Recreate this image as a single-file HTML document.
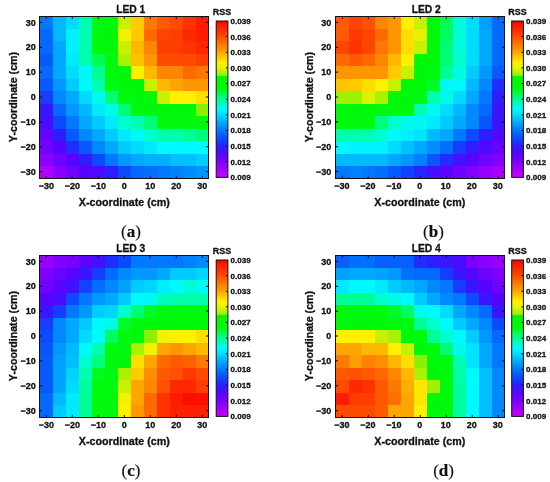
<!DOCTYPE html>
<html><head><meta charset="utf-8"><title>LED RSS maps</title>
<style>html,body{margin:0;padding:0;background:#fff;}svg{display:block;}</style></head><body>
<svg width="550" height="482" viewBox="0 0 550 482">
<defs><linearGradient id="cb" x1="0" y1="1" x2="0" y2="0"><stop offset="0%" stop-color="#c800ff"/><stop offset="5%" stop-color="#a500ff"/><stop offset="10%" stop-color="#7d00ff"/><stop offset="15%" stop-color="#5505ff"/><stop offset="20%" stop-color="#2d1eff"/><stop offset="25%" stop-color="#0a4bff"/><stop offset="30%" stop-color="#0078ff"/><stop offset="35%" stop-color="#00a8ff"/><stop offset="40%" stop-color="#00dcff"/><stop offset="43.33%" stop-color="#00f8ff"/><stop offset="46.67%" stop-color="#00fdcd"/><stop offset="50%" stop-color="#00fd96"/><stop offset="53.33%" stop-color="#00fc55"/><stop offset="56%" stop-color="#00fa0f"/><stop offset="64.67%" stop-color="#00f805"/><stop offset="65%" stop-color="#8cf005"/><stop offset="70%" stop-color="#e6f200"/><stop offset="73.33%" stop-color="#fff000"/><stop offset="76.67%" stop-color="#ffcb00"/><stop offset="80%" stop-color="#ffa500"/><stop offset="85%" stop-color="#ff7800"/><stop offset="90%" stop-color="#ff4b00"/><stop offset="93.33%" stop-color="#ff3200"/><stop offset="96.67%" stop-color="#ff1c00"/><stop offset="100%" stop-color="#f80000"/></linearGradient></defs>
<style>text{stroke:#111111;stroke-width:0.3px;stroke-linejoin:round}</style>
<rect width="550" height="482" fill="#fff"/>
<g transform="translate(0,0)">
<g shape-rendering="crispEdges">
<rect x="39.5" y="16.5" width="13.05" height="12.51" fill="#0078ff"/>
<rect x="52.5" y="16.5" width="13.05" height="12.51" fill="#00b9ff"/>
<rect x="65.5" y="16.5" width="13.05" height="12.51" fill="#00dcff"/>
<rect x="78.5" y="16.5" width="13.05" height="12.51" fill="#00fdb2"/>
<rect x="91.5" y="16.5" width="13.05" height="12.51" fill="#00f90c"/>
<rect x="104.5" y="16.5" width="13.05" height="12.51" fill="#00f90a"/>
<rect x="117.5" y="16.5" width="13.05" height="12.51" fill="#c8f102"/>
<rect x="130.5" y="16.5" width="13.05" height="12.51" fill="#ffcb00"/>
<rect x="143.5" y="16.5" width="13.05" height="12.51" fill="#ff7800"/>
<rect x="156.5" y="16.5" width="13.05" height="12.51" fill="#ff5a00"/>
<rect x="169.5" y="16.5" width="13.05" height="12.51" fill="#ff4b00"/>
<rect x="182.5" y="16.5" width="13.05" height="12.51" fill="#ff3200"/>
<rect x="195.5" y="16.5" width="13.05" height="12.51" fill="#ff1c00"/>
<rect x="39.5" y="28.96" width="13.05" height="12.51" fill="#0369ff"/>
<rect x="52.5" y="28.96" width="13.05" height="12.51" fill="#00b9ff"/>
<rect x="65.5" y="28.96" width="13.05" height="12.51" fill="#00f0ff"/>
<rect x="78.5" y="28.96" width="13.05" height="12.51" fill="#00fdb2"/>
<rect x="91.5" y="28.96" width="13.05" height="12.51" fill="#00f90c"/>
<rect x="104.5" y="28.96" width="13.05" height="12.51" fill="#00f90a"/>
<rect x="117.5" y="28.96" width="13.05" height="12.51" fill="#f2f100"/>
<rect x="130.5" y="28.96" width="13.05" height="12.51" fill="#ffcb00"/>
<rect x="143.5" y="28.96" width="13.05" height="12.51" fill="#ff6900"/>
<rect x="156.5" y="28.96" width="13.05" height="12.51" fill="#ff4300"/>
<rect x="169.5" y="28.96" width="13.05" height="12.51" fill="#ff3e00"/>
<rect x="182.5" y="28.96" width="13.05" height="12.51" fill="#ff2700"/>
<rect x="195.5" y="28.96" width="13.05" height="12.51" fill="#ff1c00"/>
<rect x="39.5" y="41.42" width="13.05" height="12.51" fill="#0369ff"/>
<rect x="52.5" y="41.42" width="13.05" height="12.51" fill="#00a8ff"/>
<rect x="65.5" y="41.42" width="13.05" height="12.51" fill="#00f0ff"/>
<rect x="78.5" y="41.42" width="13.05" height="12.51" fill="#00fdac"/>
<rect x="91.5" y="41.42" width="13.05" height="12.51" fill="#00fa0e"/>
<rect x="104.5" y="41.42" width="13.05" height="12.51" fill="#00f90a"/>
<rect x="117.5" y="41.42" width="13.05" height="12.51" fill="#c8f102"/>
<rect x="130.5" y="41.42" width="13.05" height="12.51" fill="#ffb800"/>
<rect x="143.5" y="41.42" width="13.05" height="12.51" fill="#ff8700"/>
<rect x="156.5" y="41.42" width="13.05" height="12.51" fill="#ff3e00"/>
<rect x="169.5" y="41.42" width="13.05" height="12.51" fill="#ff3e00"/>
<rect x="182.5" y="41.42" width="13.05" height="12.51" fill="#ff3200"/>
<rect x="195.5" y="41.42" width="13.05" height="12.51" fill="#ff2700"/>
<rect x="39.5" y="53.88" width="13.05" height="12.51" fill="#075aff"/>
<rect x="52.5" y="53.88" width="13.05" height="12.51" fill="#00a8ff"/>
<rect x="65.5" y="53.88" width="13.05" height="12.51" fill="#00eaff"/>
<rect x="78.5" y="53.88" width="13.05" height="12.51" fill="#00fdac"/>
<rect x="91.5" y="53.88" width="13.05" height="12.51" fill="#00fc55"/>
<rect x="104.5" y="53.88" width="13.05" height="12.51" fill="#00f90c"/>
<rect x="117.5" y="53.88" width="13.05" height="12.51" fill="#aaf103"/>
<rect x="130.5" y="53.88" width="13.05" height="12.51" fill="#ffc000"/>
<rect x="143.5" y="53.88" width="13.05" height="12.51" fill="#ff9600"/>
<rect x="156.5" y="53.88" width="13.05" height="12.51" fill="#ff4b00"/>
<rect x="169.5" y="53.88" width="13.05" height="12.51" fill="#ff4b00"/>
<rect x="182.5" y="53.88" width="13.05" height="12.51" fill="#ff4b00"/>
<rect x="195.5" y="53.88" width="13.05" height="12.51" fill="#ff3e00"/>
<rect x="39.5" y="66.35" width="13.05" height="12.51" fill="#0369ff"/>
<rect x="52.5" y="66.35" width="13.05" height="12.51" fill="#00a8ff"/>
<rect x="65.5" y="66.35" width="13.05" height="12.51" fill="#00dcff"/>
<rect x="78.5" y="66.35" width="13.05" height="12.51" fill="#00f9f5"/>
<rect x="91.5" y="66.35" width="13.05" height="12.51" fill="#00fd96"/>
<rect x="104.5" y="66.35" width="13.05" height="12.51" fill="#00f90c"/>
<rect x="117.5" y="66.35" width="13.05" height="12.51" fill="#00f90a"/>
<rect x="130.5" y="66.35" width="13.05" height="12.51" fill="#fff000"/>
<rect x="143.5" y="66.35" width="13.05" height="12.51" fill="#ffb800"/>
<rect x="156.5" y="66.35" width="13.05" height="12.51" fill="#ff8700"/>
<rect x="169.5" y="66.35" width="13.05" height="12.51" fill="#ff8700"/>
<rect x="182.5" y="66.35" width="13.05" height="12.51" fill="#ff6900"/>
<rect x="195.5" y="66.35" width="13.05" height="12.51" fill="#ff7800"/>
<rect x="39.5" y="78.81" width="13.05" height="12.51" fill="#075aff"/>
<rect x="52.5" y="78.81" width="13.05" height="12.51" fill="#0098ff"/>
<rect x="65.5" y="78.81" width="13.05" height="12.51" fill="#00cbff"/>
<rect x="78.5" y="78.81" width="13.05" height="12.51" fill="#00f8ff"/>
<rect x="91.5" y="78.81" width="13.05" height="12.51" fill="#00fdb2"/>
<rect x="104.5" y="78.81" width="13.05" height="12.51" fill="#00fa0e"/>
<rect x="117.5" y="78.81" width="13.05" height="12.51" fill="#00f90a"/>
<rect x="130.5" y="78.81" width="13.05" height="12.51" fill="#00f908"/>
<rect x="143.5" y="78.81" width="13.05" height="12.51" fill="#c8f102"/>
<rect x="156.5" y="78.81" width="13.05" height="12.51" fill="#ffb800"/>
<rect x="169.5" y="78.81" width="13.05" height="12.51" fill="#ffa500"/>
<rect x="182.5" y="78.81" width="13.05" height="12.51" fill="#ff9600"/>
<rect x="195.5" y="78.81" width="13.05" height="12.51" fill="#ff9600"/>
<rect x="39.5" y="91.27" width="13.05" height="12.51" fill="#163cff"/>
<rect x="52.5" y="91.27" width="13.05" height="12.51" fill="#0088ff"/>
<rect x="65.5" y="91.27" width="13.05" height="12.51" fill="#00a8ff"/>
<rect x="78.5" y="91.27" width="13.05" height="12.51" fill="#00dcff"/>
<rect x="91.5" y="91.27" width="13.05" height="12.51" fill="#00faf0"/>
<rect x="104.5" y="91.27" width="13.05" height="12.51" fill="#00fc76"/>
<rect x="117.5" y="91.27" width="13.05" height="12.51" fill="#00f90c"/>
<rect x="130.5" y="91.27" width="13.05" height="12.51" fill="#00f90a"/>
<rect x="143.5" y="91.27" width="13.05" height="12.51" fill="#00f908"/>
<rect x="156.5" y="91.27" width="13.05" height="12.51" fill="#c8f102"/>
<rect x="169.5" y="91.27" width="13.05" height="12.51" fill="#fff000"/>
<rect x="182.5" y="91.27" width="13.05" height="12.51" fill="#fff000"/>
<rect x="195.5" y="91.27" width="13.05" height="12.51" fill="#ffde00"/>
<rect x="39.5" y="103.73" width="13.05" height="12.51" fill="#3a16ff"/>
<rect x="52.5" y="103.73" width="13.05" height="12.51" fill="#0369ff"/>
<rect x="65.5" y="103.73" width="13.05" height="12.51" fill="#0098ff"/>
<rect x="78.5" y="103.73" width="13.05" height="12.51" fill="#00b9ff"/>
<rect x="91.5" y="103.73" width="13.05" height="12.51" fill="#00eaff"/>
<rect x="104.5" y="103.73" width="13.05" height="12.51" fill="#00fae6"/>
<rect x="117.5" y="103.73" width="13.05" height="12.51" fill="#00fc76"/>
<rect x="130.5" y="103.73" width="13.05" height="12.51" fill="#00f90c"/>
<rect x="143.5" y="103.73" width="13.05" height="12.51" fill="#00f90a"/>
<rect x="156.5" y="103.73" width="13.05" height="12.51" fill="#00f908"/>
<rect x="169.5" y="103.73" width="13.05" height="12.51" fill="#00f908"/>
<rect x="182.5" y="103.73" width="13.05" height="12.51" fill="#00f908"/>
<rect x="195.5" y="103.73" width="13.05" height="12.51" fill="#8cf005"/>
<rect x="39.5" y="116.19" width="13.05" height="12.51" fill="#480dff"/>
<rect x="52.5" y="116.19" width="13.05" height="12.51" fill="#0a4bff"/>
<rect x="65.5" y="116.19" width="13.05" height="12.51" fill="#0078ff"/>
<rect x="78.5" y="116.19" width="13.05" height="12.51" fill="#00a8ff"/>
<rect x="91.5" y="116.19" width="13.05" height="12.51" fill="#00cbff"/>
<rect x="104.5" y="116.19" width="13.05" height="12.51" fill="#00eaff"/>
<rect x="117.5" y="116.19" width="13.05" height="12.51" fill="#00fdcd"/>
<rect x="130.5" y="116.19" width="13.05" height="12.51" fill="#00fdb2"/>
<rect x="143.5" y="116.19" width="13.05" height="12.51" fill="#00fc76"/>
<rect x="156.5" y="116.19" width="13.05" height="12.51" fill="#00f90c"/>
<rect x="169.5" y="116.19" width="13.05" height="12.51" fill="#00f90c"/>
<rect x="182.5" y="116.19" width="13.05" height="12.51" fill="#00f90c"/>
<rect x="195.5" y="116.19" width="13.05" height="12.51" fill="#00fa0e"/>
<rect x="39.5" y="128.65" width="13.05" height="12.51" fill="#6203ff"/>
<rect x="52.5" y="128.65" width="13.05" height="12.51" fill="#2d1eff"/>
<rect x="65.5" y="128.65" width="13.05" height="12.51" fill="#075aff"/>
<rect x="78.5" y="128.65" width="13.05" height="12.51" fill="#0088ff"/>
<rect x="91.5" y="128.65" width="13.05" height="12.51" fill="#00a8ff"/>
<rect x="104.5" y="128.65" width="13.05" height="12.51" fill="#00cbff"/>
<rect x="117.5" y="128.65" width="13.05" height="12.51" fill="#00eaff"/>
<rect x="130.5" y="128.65" width="13.05" height="12.51" fill="#00f9f5"/>
<rect x="143.5" y="128.65" width="13.05" height="12.51" fill="#00fdcd"/>
<rect x="156.5" y="128.65" width="13.05" height="12.51" fill="#00fdb2"/>
<rect x="169.5" y="128.65" width="13.05" height="12.51" fill="#00fdb2"/>
<rect x="182.5" y="128.65" width="13.05" height="12.51" fill="#00fd96"/>
<rect x="195.5" y="128.65" width="13.05" height="12.51" fill="#00fc76"/>
<rect x="39.5" y="141.12" width="13.05" height="12.51" fill="#7002ff"/>
<rect x="52.5" y="141.12" width="13.05" height="12.51" fill="#5505ff"/>
<rect x="65.5" y="141.12" width="13.05" height="12.51" fill="#212dff"/>
<rect x="78.5" y="141.12" width="13.05" height="12.51" fill="#075aff"/>
<rect x="91.5" y="141.12" width="13.05" height="12.51" fill="#0088ff"/>
<rect x="104.5" y="141.12" width="13.05" height="12.51" fill="#00a8ff"/>
<rect x="117.5" y="141.12" width="13.05" height="12.51" fill="#00cbff"/>
<rect x="130.5" y="141.12" width="13.05" height="12.51" fill="#00dcff"/>
<rect x="143.5" y="141.12" width="13.05" height="12.51" fill="#00eaff"/>
<rect x="156.5" y="141.12" width="13.05" height="12.51" fill="#00f8ff"/>
<rect x="169.5" y="141.12" width="13.05" height="12.51" fill="#00f8ff"/>
<rect x="182.5" y="141.12" width="13.05" height="12.51" fill="#00f8ff"/>
<rect x="195.5" y="141.12" width="13.05" height="12.51" fill="#00f8ff"/>
<rect x="39.5" y="153.58" width="13.05" height="12.51" fill="#8a00ff"/>
<rect x="52.5" y="153.58" width="13.05" height="12.51" fill="#7002ff"/>
<rect x="65.5" y="153.58" width="13.05" height="12.51" fill="#5505ff"/>
<rect x="78.5" y="153.58" width="13.05" height="12.51" fill="#2d1eff"/>
<rect x="91.5" y="153.58" width="13.05" height="12.51" fill="#0a4bff"/>
<rect x="104.5" y="153.58" width="13.05" height="12.51" fill="#0078ff"/>
<rect x="117.5" y="153.58" width="13.05" height="12.51" fill="#0098ff"/>
<rect x="130.5" y="153.58" width="13.05" height="12.51" fill="#00a8ff"/>
<rect x="143.5" y="153.58" width="13.05" height="12.51" fill="#00afff"/>
<rect x="156.5" y="153.58" width="13.05" height="12.51" fill="#00afff"/>
<rect x="169.5" y="153.58" width="13.05" height="12.51" fill="#00c0ff"/>
<rect x="182.5" y="153.58" width="13.05" height="12.51" fill="#00c0ff"/>
<rect x="195.5" y="153.58" width="13.05" height="12.51" fill="#00ceff"/>
<rect x="39.5" y="166.04" width="13.05" height="12.51" fill="#b100ff"/>
<rect x="52.5" y="166.04" width="13.05" height="12.51" fill="#8a00ff"/>
<rect x="65.5" y="166.04" width="13.05" height="12.51" fill="#7002ff"/>
<rect x="78.5" y="166.04" width="13.05" height="12.51" fill="#5505ff"/>
<rect x="91.5" y="166.04" width="13.05" height="12.51" fill="#480dff"/>
<rect x="104.5" y="166.04" width="13.05" height="12.51" fill="#2d1eff"/>
<rect x="117.5" y="166.04" width="13.05" height="12.51" fill="#0a4bff"/>
<rect x="130.5" y="166.04" width="13.05" height="12.51" fill="#0369ff"/>
<rect x="143.5" y="166.04" width="13.05" height="12.51" fill="#026fff"/>
<rect x="156.5" y="166.04" width="13.05" height="12.51" fill="#0078ff"/>
<rect x="169.5" y="166.04" width="13.05" height="12.51" fill="#0082ff"/>
<rect x="182.5" y="166.04" width="13.05" height="12.51" fill="#008bff"/>
<rect x="195.5" y="166.04" width="13.05" height="12.51" fill="#0098ff"/>
</g>
<rect x="39.5" y="16.5" width="169" height="162" fill="none" stroke="#111111" stroke-width="1"/>
<path d="M46.3 178.5v-2.6M46.3 16.5v2.6M39.5 171.61h2.6M208.5 171.61h-2.6M72.3 178.5v-2.6M72.3 16.5v2.6M39.5 146.74h2.6M208.5 146.74h-2.6M98.3 178.5v-2.6M98.3 16.5v2.6M39.5 121.87h2.6M208.5 121.87h-2.6M124.3 178.5v-2.6M124.3 16.5v2.6M39.5 97h2.6M208.5 97h-2.6M150.3 178.5v-2.6M150.3 16.5v2.6M39.5 72.13h2.6M208.5 72.13h-2.6M176.3 178.5v-2.6M176.3 16.5v2.6M39.5 47.26h2.6M208.5 47.26h-2.6M202.3 178.5v-2.6M202.3 16.5v2.6M39.5 22.39h2.6M208.5 22.39h-2.6" stroke="#111111" stroke-width="1" fill="none"/>
<g transform="translate(0,0)">
<g font-family="'Liberation Sans', Arial, sans-serif" font-weight="bold" font-size="9" fill="#111111">
<text x="35.7" y="174.81" text-anchor="end">−30</text>
<text x="46.3" y="189.3" text-anchor="middle">−30</text>
<text x="35.7" y="149.94" text-anchor="end">−20</text>
<text x="72.3" y="189.3" text-anchor="middle">−20</text>
<text x="35.7" y="125.07" text-anchor="end">−10</text>
<text x="98.3" y="189.3" text-anchor="middle">−10</text>
<text x="35.7" y="100.2" text-anchor="end">0</text>
<text x="124.3" y="189.3" text-anchor="middle">0</text>
<text x="35.7" y="75.33" text-anchor="end">10</text>
<text x="150.3" y="189.3" text-anchor="middle">10</text>
<text x="35.7" y="50.46" text-anchor="end">20</text>
<text x="176.3" y="189.3" text-anchor="middle">20</text>
<text x="35.7" y="25.59" text-anchor="end">30</text>
<text x="202.3" y="189.3" text-anchor="middle">30</text>
</g>
<text x="124.3" y="206" text-anchor="middle" font-family="'Liberation Sans', Arial, sans-serif" font-weight="bold" font-size="10.7" fill="#111111">X-coordinate (cm)</text>
<text transform="translate(17,97) rotate(-90)" text-anchor="middle" font-family="'Liberation Sans', Arial, sans-serif" font-weight="bold" font-size="10.7" fill="#111111">Y-coordinate (cm)</text>
<text x="130.75" y="13.3" text-anchor="middle" font-family="'Liberation Sans', Arial, sans-serif" font-weight="bold" font-size="10.3" fill="#111111">LED 1</text>
<rect x="216.2" y="21" width="11.7" height="156.4" fill="url(#cb)" stroke="#111111" stroke-width="1"/>
<g font-family="'Liberation Sans', Arial, sans-serif" font-weight="bold" font-size="8" fill="#111111">
<text x="230.6" y="180.3">0.009</text>
<text x="230.6" y="164.66">0.012</text>
<text x="230.6" y="149.02">0.015</text>
<text x="230.6" y="133.38">0.018</text>
<text x="230.6" y="117.74">0.021</text>
<text x="230.6" y="102.1">0.024</text>
<text x="230.6" y="86.46">0.027</text>
<text x="230.6" y="70.82">0.030</text>
<text x="230.6" y="55.18">0.033</text>
<text x="230.6" y="39.54">0.036</text>
<text x="230.6" y="23.9">0.039</text>
</g>
<path d="M227.9 161.76h-2M227.9 146.12h-2M227.9 130.48h-2M227.9 114.84h-2M227.9 99.2h-2M227.9 83.56h-2M227.9 67.92h-2M227.9 52.28h-2M227.9 36.64h-2" stroke="#111111" stroke-width="1" fill="none"/>
<text x="222" y="14.9" text-anchor="middle" font-family="'Liberation Sans', Arial, sans-serif" font-weight="bold" font-size="9" fill="#111111">RSS</text>
</g>
</g>
<g transform="translate(296,0)">
<g shape-rendering="crispEdges">
<rect x="39.5" y="16.5" width="13.05" height="12.51" fill="#ff5a00"/>
<rect x="52.5" y="16.5" width="13.05" height="12.51" fill="#ff4300"/>
<rect x="65.5" y="16.5" width="13.05" height="12.51" fill="#ff5100"/>
<rect x="78.5" y="16.5" width="13.05" height="12.51" fill="#ff8700"/>
<rect x="91.5" y="16.5" width="13.05" height="12.51" fill="#ff9600"/>
<rect x="104.5" y="16.5" width="13.05" height="12.51" fill="#fff000"/>
<rect x="117.5" y="16.5" width="13.05" height="12.51" fill="#c8f102"/>
<rect x="130.5" y="16.5" width="13.05" height="12.51" fill="#00f90a"/>
<rect x="143.5" y="16.5" width="13.05" height="12.51" fill="#00fc55"/>
<rect x="156.5" y="16.5" width="13.05" height="12.51" fill="#00fcdc"/>
<rect x="169.5" y="16.5" width="13.05" height="12.51" fill="#00dcff"/>
<rect x="182.5" y="16.5" width="13.05" height="12.51" fill="#009eff"/>
<rect x="195.5" y="16.5" width="13.05" height="12.51" fill="#0369ff"/>
<rect x="39.5" y="28.96" width="13.05" height="12.51" fill="#ff5a00"/>
<rect x="52.5" y="28.96" width="13.05" height="12.51" fill="#ff3700"/>
<rect x="65.5" y="28.96" width="13.05" height="12.51" fill="#ff4600"/>
<rect x="78.5" y="28.96" width="13.05" height="12.51" fill="#ff6900"/>
<rect x="91.5" y="28.96" width="13.05" height="12.51" fill="#ff9600"/>
<rect x="104.5" y="28.96" width="13.05" height="12.51" fill="#ffde00"/>
<rect x="117.5" y="28.96" width="13.05" height="12.51" fill="#e6f200"/>
<rect x="130.5" y="28.96" width="13.05" height="12.51" fill="#00f90a"/>
<rect x="143.5" y="28.96" width="13.05" height="12.51" fill="#00fc62"/>
<rect x="156.5" y="28.96" width="13.05" height="12.51" fill="#00fcdc"/>
<rect x="169.5" y="28.96" width="13.05" height="12.51" fill="#00dcff"/>
<rect x="182.5" y="28.96" width="13.05" height="12.51" fill="#00a8ff"/>
<rect x="195.5" y="28.96" width="13.05" height="12.51" fill="#0369ff"/>
<rect x="39.5" y="41.42" width="13.05" height="12.51" fill="#ff4600"/>
<rect x="52.5" y="41.42" width="13.05" height="12.51" fill="#ff3200"/>
<rect x="65.5" y="41.42" width="13.05" height="12.51" fill="#ff4600"/>
<rect x="78.5" y="41.42" width="13.05" height="12.51" fill="#ff7800"/>
<rect x="91.5" y="41.42" width="13.05" height="12.51" fill="#ff9600"/>
<rect x="104.5" y="41.42" width="13.05" height="12.51" fill="#ffde00"/>
<rect x="117.5" y="41.42" width="13.05" height="12.51" fill="#c8f102"/>
<rect x="130.5" y="41.42" width="13.05" height="12.51" fill="#00f90a"/>
<rect x="143.5" y="41.42" width="13.05" height="12.51" fill="#00fc76"/>
<rect x="156.5" y="41.42" width="13.05" height="12.51" fill="#00fcdc"/>
<rect x="169.5" y="41.42" width="13.05" height="12.51" fill="#00dcff"/>
<rect x="182.5" y="41.42" width="13.05" height="12.51" fill="#00a8ff"/>
<rect x="195.5" y="41.42" width="13.05" height="12.51" fill="#0369ff"/>
<rect x="39.5" y="53.88" width="13.05" height="12.51" fill="#ff6900"/>
<rect x="52.5" y="53.88" width="13.05" height="12.51" fill="#ff5a00"/>
<rect x="65.5" y="53.88" width="13.05" height="12.51" fill="#ff6900"/>
<rect x="78.5" y="53.88" width="13.05" height="12.51" fill="#ff8700"/>
<rect x="91.5" y="53.88" width="13.05" height="12.51" fill="#ffb800"/>
<rect x="104.5" y="53.88" width="13.05" height="12.51" fill="#fff000"/>
<rect x="117.5" y="53.88" width="13.05" height="12.51" fill="#00f908"/>
<rect x="130.5" y="53.88" width="13.05" height="12.51" fill="#00f90a"/>
<rect x="143.5" y="53.88" width="13.05" height="12.51" fill="#00fc76"/>
<rect x="156.5" y="53.88" width="13.05" height="12.51" fill="#00fdcd"/>
<rect x="169.5" y="53.88" width="13.05" height="12.51" fill="#00dcff"/>
<rect x="182.5" y="53.88" width="13.05" height="12.51" fill="#00a8ff"/>
<rect x="195.5" y="53.88" width="13.05" height="12.51" fill="#0369ff"/>
<rect x="39.5" y="66.35" width="13.05" height="12.51" fill="#ff9600"/>
<rect x="52.5" y="66.35" width="13.05" height="12.51" fill="#ff9600"/>
<rect x="65.5" y="66.35" width="13.05" height="12.51" fill="#ff9600"/>
<rect x="78.5" y="66.35" width="13.05" height="12.51" fill="#ff9600"/>
<rect x="91.5" y="66.35" width="13.05" height="12.51" fill="#ffcb00"/>
<rect x="104.5" y="66.35" width="13.05" height="12.51" fill="#c8f102"/>
<rect x="117.5" y="66.35" width="13.05" height="12.51" fill="#00f90a"/>
<rect x="130.5" y="66.35" width="13.05" height="12.51" fill="#00f90c"/>
<rect x="143.5" y="66.35" width="13.05" height="12.51" fill="#00fd96"/>
<rect x="156.5" y="66.35" width="13.05" height="12.51" fill="#00fae6"/>
<rect x="169.5" y="66.35" width="13.05" height="12.51" fill="#00cbff"/>
<rect x="182.5" y="66.35" width="13.05" height="12.51" fill="#0098ff"/>
<rect x="195.5" y="66.35" width="13.05" height="12.51" fill="#075aff"/>
<rect x="39.5" y="78.81" width="13.05" height="12.51" fill="#ffc300"/>
<rect x="52.5" y="78.81" width="13.05" height="12.51" fill="#ffcb00"/>
<rect x="65.5" y="78.81" width="13.05" height="12.51" fill="#ffde00"/>
<rect x="78.5" y="78.81" width="13.05" height="12.51" fill="#fff000"/>
<rect x="91.5" y="78.81" width="13.05" height="12.51" fill="#c8f102"/>
<rect x="104.5" y="78.81" width="13.05" height="12.51" fill="#00f908"/>
<rect x="117.5" y="78.81" width="13.05" height="12.51" fill="#00f90a"/>
<rect x="130.5" y="78.81" width="13.05" height="12.51" fill="#00fb29"/>
<rect x="143.5" y="78.81" width="13.05" height="12.51" fill="#00f9f5"/>
<rect x="156.5" y="78.81" width="13.05" height="12.51" fill="#00f8ff"/>
<rect x="169.5" y="78.81" width="13.05" height="12.51" fill="#00b9ff"/>
<rect x="182.5" y="78.81" width="13.05" height="12.51" fill="#0088ff"/>
<rect x="195.5" y="78.81" width="13.05" height="12.51" fill="#212dff"/>
<rect x="39.5" y="91.27" width="13.05" height="12.51" fill="#9ef004"/>
<rect x="52.5" y="91.27" width="13.05" height="12.51" fill="#9ef004"/>
<rect x="65.5" y="91.27" width="13.05" height="12.51" fill="#daf201"/>
<rect x="78.5" y="91.27" width="13.05" height="12.51" fill="#aaf103"/>
<rect x="91.5" y="91.27" width="13.05" height="12.51" fill="#00f90a"/>
<rect x="104.5" y="91.27" width="13.05" height="12.51" fill="#00f90a"/>
<rect x="117.5" y="91.27" width="13.05" height="12.51" fill="#00f90c"/>
<rect x="130.5" y="91.27" width="13.05" height="12.51" fill="#00fdb2"/>
<rect x="143.5" y="91.27" width="13.05" height="12.51" fill="#00fae6"/>
<rect x="156.5" y="91.27" width="13.05" height="12.51" fill="#00dcff"/>
<rect x="169.5" y="91.27" width="13.05" height="12.51" fill="#00a8ff"/>
<rect x="182.5" y="91.27" width="13.05" height="12.51" fill="#0078ff"/>
<rect x="195.5" y="91.27" width="13.05" height="12.51" fill="#2d1eff"/>
<rect x="39.5" y="103.73" width="13.05" height="12.51" fill="#00f90a"/>
<rect x="52.5" y="103.73" width="13.05" height="12.51" fill="#00f90a"/>
<rect x="65.5" y="103.73" width="13.05" height="12.51" fill="#00f90a"/>
<rect x="78.5" y="103.73" width="13.05" height="12.51" fill="#00f90c"/>
<rect x="91.5" y="103.73" width="13.05" height="12.51" fill="#00f90c"/>
<rect x="104.5" y="103.73" width="13.05" height="12.51" fill="#00fa0e"/>
<rect x="117.5" y="103.73" width="13.05" height="12.51" fill="#00fdb2"/>
<rect x="130.5" y="103.73" width="13.05" height="12.51" fill="#00f9f5"/>
<rect x="143.5" y="103.73" width="13.05" height="12.51" fill="#00dcff"/>
<rect x="156.5" y="103.73" width="13.05" height="12.51" fill="#00b9ff"/>
<rect x="169.5" y="103.73" width="13.05" height="12.51" fill="#0088ff"/>
<rect x="182.5" y="103.73" width="13.05" height="12.51" fill="#0369ff"/>
<rect x="195.5" y="103.73" width="13.05" height="12.51" fill="#3a16ff"/>
<rect x="39.5" y="116.19" width="13.05" height="12.51" fill="#00f90c"/>
<rect x="52.5" y="116.19" width="13.05" height="12.51" fill="#00f90c"/>
<rect x="65.5" y="116.19" width="13.05" height="12.51" fill="#00fa0e"/>
<rect x="78.5" y="116.19" width="13.05" height="12.51" fill="#00fd82"/>
<rect x="91.5" y="116.19" width="13.05" height="12.51" fill="#00fdcd"/>
<rect x="104.5" y="116.19" width="13.05" height="12.51" fill="#00faf0"/>
<rect x="117.5" y="116.19" width="13.05" height="12.51" fill="#00f9f5"/>
<rect x="130.5" y="116.19" width="13.05" height="12.51" fill="#00eaff"/>
<rect x="143.5" y="116.19" width="13.05" height="12.51" fill="#00cbff"/>
<rect x="156.5" y="116.19" width="13.05" height="12.51" fill="#00a8ff"/>
<rect x="169.5" y="116.19" width="13.05" height="12.51" fill="#0088ff"/>
<rect x="182.5" y="116.19" width="13.05" height="12.51" fill="#0854ff"/>
<rect x="195.5" y="116.19" width="13.05" height="12.51" fill="#3a16ff"/>
<rect x="39.5" y="128.65" width="13.05" height="12.51" fill="#00fdb2"/>
<rect x="52.5" y="128.65" width="13.05" height="12.51" fill="#00fdb2"/>
<rect x="65.5" y="128.65" width="13.05" height="12.51" fill="#00fdb2"/>
<rect x="78.5" y="128.65" width="13.05" height="12.51" fill="#00fdcd"/>
<rect x="91.5" y="128.65" width="13.05" height="12.51" fill="#00f8ff"/>
<rect x="104.5" y="128.65" width="13.05" height="12.51" fill="#00f0ff"/>
<rect x="117.5" y="128.65" width="13.05" height="12.51" fill="#00e4ff"/>
<rect x="130.5" y="128.65" width="13.05" height="12.51" fill="#00b9ff"/>
<rect x="143.5" y="128.65" width="13.05" height="12.51" fill="#00a8ff"/>
<rect x="156.5" y="128.65" width="13.05" height="12.51" fill="#0078ff"/>
<rect x="169.5" y="128.65" width="13.05" height="12.51" fill="#0a4bff"/>
<rect x="182.5" y="128.65" width="13.05" height="12.51" fill="#2d1eff"/>
<rect x="195.5" y="128.65" width="13.05" height="12.51" fill="#5008ff"/>
<rect x="39.5" y="141.12" width="13.05" height="12.51" fill="#00f8ff"/>
<rect x="52.5" y="141.12" width="13.05" height="12.51" fill="#00f2ff"/>
<rect x="65.5" y="141.12" width="13.05" height="12.51" fill="#00f2ff"/>
<rect x="78.5" y="141.12" width="13.05" height="12.51" fill="#00f0ff"/>
<rect x="91.5" y="141.12" width="13.05" height="12.51" fill="#00dcff"/>
<rect x="104.5" y="141.12" width="13.05" height="12.51" fill="#00c0ff"/>
<rect x="117.5" y="141.12" width="13.05" height="12.51" fill="#00a8ff"/>
<rect x="130.5" y="141.12" width="13.05" height="12.51" fill="#008eff"/>
<rect x="143.5" y="141.12" width="13.05" height="12.51" fill="#026fff"/>
<rect x="156.5" y="141.12" width="13.05" height="12.51" fill="#163cff"/>
<rect x="169.5" y="141.12" width="13.05" height="12.51" fill="#3519ff"/>
<rect x="182.5" y="141.12" width="13.05" height="12.51" fill="#5008ff"/>
<rect x="195.5" y="141.12" width="13.05" height="12.51" fill="#6803ff"/>
<rect x="39.5" y="153.58" width="13.05" height="12.51" fill="#00b9ff"/>
<rect x="52.5" y="153.58" width="13.05" height="12.51" fill="#00b9ff"/>
<rect x="65.5" y="153.58" width="13.05" height="12.51" fill="#00b9ff"/>
<rect x="78.5" y="153.58" width="13.05" height="12.51" fill="#00b9ff"/>
<rect x="91.5" y="153.58" width="13.05" height="12.51" fill="#00a8ff"/>
<rect x="104.5" y="153.58" width="13.05" height="12.51" fill="#0098ff"/>
<rect x="117.5" y="153.58" width="13.05" height="12.51" fill="#0082ff"/>
<rect x="130.5" y="153.58" width="13.05" height="12.51" fill="#0854ff"/>
<rect x="143.5" y="153.58" width="13.05" height="12.51" fill="#212dff"/>
<rect x="156.5" y="153.58" width="13.05" height="12.51" fill="#4012ff"/>
<rect x="169.5" y="153.58" width="13.05" height="12.51" fill="#5a04ff"/>
<rect x="182.5" y="153.58" width="13.05" height="12.51" fill="#7002ff"/>
<rect x="195.5" y="153.58" width="13.05" height="12.51" fill="#8200ff"/>
<rect x="39.5" y="166.04" width="13.05" height="12.51" fill="#0078ff"/>
<rect x="52.5" y="166.04" width="13.05" height="12.51" fill="#0082ff"/>
<rect x="65.5" y="166.04" width="13.05" height="12.51" fill="#0078ff"/>
<rect x="78.5" y="166.04" width="13.05" height="12.51" fill="#026fff"/>
<rect x="91.5" y="166.04" width="13.05" height="12.51" fill="#075aff"/>
<rect x="104.5" y="166.04" width="13.05" height="12.51" fill="#1142ff"/>
<rect x="117.5" y="166.04" width="13.05" height="12.51" fill="#2627ff"/>
<rect x="130.5" y="166.04" width="13.05" height="12.51" fill="#4211ff"/>
<rect x="143.5" y="166.04" width="13.05" height="12.51" fill="#5a04ff"/>
<rect x="156.5" y="166.04" width="13.05" height="12.51" fill="#7002ff"/>
<rect x="169.5" y="166.04" width="13.05" height="12.51" fill="#8500ff"/>
<rect x="182.5" y="166.04" width="13.05" height="12.51" fill="#9800ff"/>
<rect x="195.5" y="166.04" width="13.05" height="12.51" fill="#aa00ff"/>
</g>
<rect x="39.5" y="16.5" width="169" height="162" fill="none" stroke="#111111" stroke-width="1"/>
<path d="M46.3 178.5v-2.6M46.3 16.5v2.6M39.5 171.61h2.6M208.5 171.61h-2.6M72.3 178.5v-2.6M72.3 16.5v2.6M39.5 146.74h2.6M208.5 146.74h-2.6M98.3 178.5v-2.6M98.3 16.5v2.6M39.5 121.87h2.6M208.5 121.87h-2.6M124.3 178.5v-2.6M124.3 16.5v2.6M39.5 97h2.6M208.5 97h-2.6M150.3 178.5v-2.6M150.3 16.5v2.6M39.5 72.13h2.6M208.5 72.13h-2.6M176.3 178.5v-2.6M176.3 16.5v2.6M39.5 47.26h2.6M208.5 47.26h-2.6M202.3 178.5v-2.6M202.3 16.5v2.6M39.5 22.39h2.6M208.5 22.39h-2.6" stroke="#111111" stroke-width="1" fill="none"/>
<g transform="translate(-0.5,0)">
<g font-family="'Liberation Sans', Arial, sans-serif" font-weight="bold" font-size="9" fill="#111111">
<text x="35.7" y="174.81" text-anchor="end">−30</text>
<text x="46.3" y="189.3" text-anchor="middle">−30</text>
<text x="35.7" y="149.94" text-anchor="end">−20</text>
<text x="72.3" y="189.3" text-anchor="middle">−20</text>
<text x="35.7" y="125.07" text-anchor="end">−10</text>
<text x="98.3" y="189.3" text-anchor="middle">−10</text>
<text x="35.7" y="100.2" text-anchor="end">0</text>
<text x="124.3" y="189.3" text-anchor="middle">0</text>
<text x="35.7" y="75.33" text-anchor="end">10</text>
<text x="150.3" y="189.3" text-anchor="middle">10</text>
<text x="35.7" y="50.46" text-anchor="end">20</text>
<text x="176.3" y="189.3" text-anchor="middle">20</text>
<text x="35.7" y="25.59" text-anchor="end">30</text>
<text x="202.3" y="189.3" text-anchor="middle">30</text>
</g>
<text x="124.3" y="206" text-anchor="middle" font-family="'Liberation Sans', Arial, sans-serif" font-weight="bold" font-size="10.7" fill="#111111">X-coordinate (cm)</text>
<text transform="translate(17,97) rotate(-90)" text-anchor="middle" font-family="'Liberation Sans', Arial, sans-serif" font-weight="bold" font-size="10.7" fill="#111111">Y-coordinate (cm)</text>
<text x="130.75" y="13.3" text-anchor="middle" font-family="'Liberation Sans', Arial, sans-serif" font-weight="bold" font-size="10.3" fill="#111111">LED 2</text>
<rect x="216.2" y="21" width="11.7" height="156.4" fill="url(#cb)" stroke="#111111" stroke-width="1"/>
<g font-family="'Liberation Sans', Arial, sans-serif" font-weight="bold" font-size="8" fill="#111111">
<text x="230.6" y="180.3">0.009</text>
<text x="230.6" y="164.66">0.012</text>
<text x="230.6" y="149.02">0.015</text>
<text x="230.6" y="133.38">0.018</text>
<text x="230.6" y="117.74">0.021</text>
<text x="230.6" y="102.1">0.024</text>
<text x="230.6" y="86.46">0.027</text>
<text x="230.6" y="70.82">0.030</text>
<text x="230.6" y="55.18">0.033</text>
<text x="230.6" y="39.54">0.036</text>
<text x="230.6" y="23.9">0.039</text>
</g>
<path d="M227.9 161.76h-2M227.9 146.12h-2M227.9 130.48h-2M227.9 114.84h-2M227.9 99.2h-2M227.9 83.56h-2M227.9 67.92h-2M227.9 52.28h-2M227.9 36.64h-2" stroke="#111111" stroke-width="1" fill="none"/>
<text x="222" y="14.9" text-anchor="middle" font-family="'Liberation Sans', Arial, sans-serif" font-weight="bold" font-size="9" fill="#111111">RSS</text>
</g>
</g>
<g transform="translate(0,239)">
<g shape-rendering="crispEdges">
<rect x="39.5" y="16.5" width="13.05" height="12.51" fill="#9800ff"/>
<rect x="52.5" y="16.5" width="13.05" height="12.51" fill="#8200ff"/>
<rect x="65.5" y="16.5" width="13.05" height="12.51" fill="#7801ff"/>
<rect x="78.5" y="16.5" width="13.05" height="12.51" fill="#5d04ff"/>
<rect x="91.5" y="16.5" width="13.05" height="12.51" fill="#480dff"/>
<rect x="104.5" y="16.5" width="13.05" height="12.51" fill="#212dff"/>
<rect x="117.5" y="16.5" width="13.05" height="12.51" fill="#0a4bff"/>
<rect x="130.5" y="16.5" width="13.05" height="12.51" fill="#0078ff"/>
<rect x="143.5" y="16.5" width="13.05" height="12.51" fill="#0078ff"/>
<rect x="156.5" y="16.5" width="13.05" height="12.51" fill="#0078ff"/>
<rect x="169.5" y="16.5" width="13.05" height="12.51" fill="#0078ff"/>
<rect x="182.5" y="16.5" width="13.05" height="12.51" fill="#0082ff"/>
<rect x="195.5" y="16.5" width="13.05" height="12.51" fill="#008bff"/>
<rect x="39.5" y="28.96" width="13.05" height="12.51" fill="#7d00ff"/>
<rect x="52.5" y="28.96" width="13.05" height="12.51" fill="#6803ff"/>
<rect x="65.5" y="28.96" width="13.05" height="12.51" fill="#5505ff"/>
<rect x="78.5" y="28.96" width="13.05" height="12.51" fill="#3a16ff"/>
<rect x="91.5" y="28.96" width="13.05" height="12.51" fill="#163cff"/>
<rect x="104.5" y="28.96" width="13.05" height="12.51" fill="#0369ff"/>
<rect x="117.5" y="28.96" width="13.05" height="12.51" fill="#0088ff"/>
<rect x="130.5" y="28.96" width="13.05" height="12.51" fill="#0098ff"/>
<rect x="143.5" y="28.96" width="13.05" height="12.51" fill="#0098ff"/>
<rect x="156.5" y="28.96" width="13.05" height="12.51" fill="#00a8ff"/>
<rect x="169.5" y="28.96" width="13.05" height="12.51" fill="#00cbff"/>
<rect x="182.5" y="28.96" width="13.05" height="12.51" fill="#00cbff"/>
<rect x="195.5" y="28.96" width="13.05" height="12.51" fill="#00d5ff"/>
<rect x="39.5" y="41.42" width="13.05" height="12.51" fill="#7002ff"/>
<rect x="52.5" y="41.42" width="13.05" height="12.51" fill="#5d04ff"/>
<rect x="65.5" y="41.42" width="13.05" height="12.51" fill="#4211ff"/>
<rect x="78.5" y="41.42" width="13.05" height="12.51" fill="#1142ff"/>
<rect x="91.5" y="41.42" width="13.05" height="12.51" fill="#026fff"/>
<rect x="104.5" y="41.42" width="13.05" height="12.51" fill="#0088ff"/>
<rect x="117.5" y="41.42" width="13.05" height="12.51" fill="#00a2ff"/>
<rect x="130.5" y="41.42" width="13.05" height="12.51" fill="#00cbff"/>
<rect x="143.5" y="41.42" width="13.05" height="12.51" fill="#00d5ff"/>
<rect x="156.5" y="41.42" width="13.05" height="12.51" fill="#00edff"/>
<rect x="169.5" y="41.42" width="13.05" height="12.51" fill="#00f8ff"/>
<rect x="182.5" y="41.42" width="13.05" height="12.51" fill="#00fcd7"/>
<rect x="195.5" y="41.42" width="13.05" height="12.51" fill="#00faf0"/>
<rect x="39.5" y="53.88" width="13.05" height="12.51" fill="#5505ff"/>
<rect x="52.5" y="53.88" width="13.05" height="12.51" fill="#480dff"/>
<rect x="65.5" y="53.88" width="13.05" height="12.51" fill="#0a4bff"/>
<rect x="78.5" y="53.88" width="13.05" height="12.51" fill="#0078ff"/>
<rect x="91.5" y="53.88" width="13.05" height="12.51" fill="#0098ff"/>
<rect x="104.5" y="53.88" width="13.05" height="12.51" fill="#00a8ff"/>
<rect x="117.5" y="53.88" width="13.05" height="12.51" fill="#00cbff"/>
<rect x="130.5" y="53.88" width="13.05" height="12.51" fill="#00f8ff"/>
<rect x="143.5" y="53.88" width="13.05" height="12.51" fill="#00f9f5"/>
<rect x="156.5" y="53.88" width="13.05" height="12.51" fill="#00fdb7"/>
<rect x="169.5" y="53.88" width="13.05" height="12.51" fill="#00fdac"/>
<rect x="182.5" y="53.88" width="13.05" height="12.51" fill="#00fdac"/>
<rect x="195.5" y="53.88" width="13.05" height="12.51" fill="#00fdac"/>
<rect x="39.5" y="66.35" width="13.05" height="12.51" fill="#3a16ff"/>
<rect x="52.5" y="66.35" width="13.05" height="12.51" fill="#163cff"/>
<rect x="65.5" y="66.35" width="13.05" height="12.51" fill="#0078ff"/>
<rect x="78.5" y="66.35" width="13.05" height="12.51" fill="#0098ff"/>
<rect x="91.5" y="66.35" width="13.05" height="12.51" fill="#00cbff"/>
<rect x="104.5" y="66.35" width="13.05" height="12.51" fill="#00d5ff"/>
<rect x="117.5" y="66.35" width="13.05" height="12.51" fill="#00fdcd"/>
<rect x="130.5" y="66.35" width="13.05" height="12.51" fill="#00fc76"/>
<rect x="143.5" y="66.35" width="13.05" height="12.51" fill="#00fb29"/>
<rect x="156.5" y="66.35" width="13.05" height="12.51" fill="#00f90c"/>
<rect x="169.5" y="66.35" width="13.05" height="12.51" fill="#00f90c"/>
<rect x="182.5" y="66.35" width="13.05" height="12.51" fill="#00f90c"/>
<rect x="195.5" y="66.35" width="13.05" height="12.51" fill="#00f90c"/>
<rect x="39.5" y="78.81" width="13.05" height="12.51" fill="#163cff"/>
<rect x="52.5" y="78.81" width="13.05" height="12.51" fill="#0088ff"/>
<rect x="65.5" y="78.81" width="13.05" height="12.51" fill="#00a8ff"/>
<rect x="78.5" y="78.81" width="13.05" height="12.51" fill="#00cbff"/>
<rect x="91.5" y="78.81" width="13.05" height="12.51" fill="#00f8ff"/>
<rect x="104.5" y="78.81" width="13.05" height="12.51" fill="#00fae6"/>
<rect x="117.5" y="78.81" width="13.05" height="12.51" fill="#00fb29"/>
<rect x="130.5" y="78.81" width="13.05" height="12.51" fill="#00f90c"/>
<rect x="143.5" y="78.81" width="13.05" height="12.51" fill="#00f90a"/>
<rect x="156.5" y="78.81" width="13.05" height="12.51" fill="#00f90a"/>
<rect x="169.5" y="78.81" width="13.05" height="12.51" fill="#00f90a"/>
<rect x="182.5" y="78.81" width="13.05" height="12.51" fill="#00f908"/>
<rect x="195.5" y="78.81" width="13.05" height="12.51" fill="#00f908"/>
<rect x="39.5" y="91.27" width="13.05" height="12.51" fill="#0a4bff"/>
<rect x="52.5" y="91.27" width="13.05" height="12.51" fill="#0088ff"/>
<rect x="65.5" y="91.27" width="13.05" height="12.51" fill="#00a8ff"/>
<rect x="78.5" y="91.27" width="13.05" height="12.51" fill="#00dcff"/>
<rect x="91.5" y="91.27" width="13.05" height="12.51" fill="#00f8ff"/>
<rect x="104.5" y="91.27" width="13.05" height="12.51" fill="#00fc62"/>
<rect x="117.5" y="91.27" width="13.05" height="12.51" fill="#00f90c"/>
<rect x="130.5" y="91.27" width="13.05" height="12.51" fill="#00f90a"/>
<rect x="143.5" y="91.27" width="13.05" height="12.51" fill="#8cf005"/>
<rect x="156.5" y="91.27" width="13.05" height="12.51" fill="#f2f100"/>
<rect x="169.5" y="91.27" width="13.05" height="12.51" fill="#fff000"/>
<rect x="182.5" y="91.27" width="13.05" height="12.51" fill="#fff000"/>
<rect x="195.5" y="91.27" width="13.05" height="12.51" fill="#ffde00"/>
<rect x="39.5" y="103.73" width="13.05" height="12.51" fill="#0854ff"/>
<rect x="52.5" y="103.73" width="13.05" height="12.51" fill="#0098ff"/>
<rect x="65.5" y="103.73" width="13.05" height="12.51" fill="#00b9ff"/>
<rect x="78.5" y="103.73" width="13.05" height="12.51" fill="#00f8ff"/>
<rect x="91.5" y="103.73" width="13.05" height="12.51" fill="#00fdb2"/>
<rect x="104.5" y="103.73" width="13.05" height="12.51" fill="#00fa0e"/>
<rect x="117.5" y="103.73" width="13.05" height="12.51" fill="#00f90c"/>
<rect x="130.5" y="103.73" width="13.05" height="12.51" fill="#aaf103"/>
<rect x="143.5" y="103.73" width="13.05" height="12.51" fill="#f2f100"/>
<rect x="156.5" y="103.73" width="13.05" height="12.51" fill="#ffa500"/>
<rect x="169.5" y="103.73" width="13.05" height="12.51" fill="#ff9600"/>
<rect x="182.5" y="103.73" width="13.05" height="12.51" fill="#ffa500"/>
<rect x="195.5" y="103.73" width="13.05" height="12.51" fill="#ffb800"/>
<rect x="39.5" y="116.19" width="13.05" height="12.51" fill="#075aff"/>
<rect x="52.5" y="116.19" width="13.05" height="12.51" fill="#00a2ff"/>
<rect x="65.5" y="116.19" width="13.05" height="12.51" fill="#00c0ff"/>
<rect x="78.5" y="116.19" width="13.05" height="12.51" fill="#00fdcd"/>
<rect x="91.5" y="116.19" width="13.05" height="12.51" fill="#00fd7c"/>
<rect x="104.5" y="116.19" width="13.05" height="12.51" fill="#00f90c"/>
<rect x="117.5" y="116.19" width="13.05" height="12.51" fill="#00f90a"/>
<rect x="130.5" y="116.19" width="13.05" height="12.51" fill="#ffde00"/>
<rect x="143.5" y="116.19" width="13.05" height="12.51" fill="#ffa500"/>
<rect x="156.5" y="116.19" width="13.05" height="12.51" fill="#ff6900"/>
<rect x="169.5" y="116.19" width="13.05" height="12.51" fill="#ff5a00"/>
<rect x="182.5" y="116.19" width="13.05" height="12.51" fill="#ff6000"/>
<rect x="195.5" y="116.19" width="13.05" height="12.51" fill="#ff7800"/>
<rect x="39.5" y="128.65" width="13.05" height="12.51" fill="#075aff"/>
<rect x="52.5" y="128.65" width="13.05" height="12.51" fill="#00a2ff"/>
<rect x="65.5" y="128.65" width="13.05" height="12.51" fill="#00d2ff"/>
<rect x="78.5" y="128.65" width="13.05" height="12.51" fill="#00fdb2"/>
<rect x="91.5" y="128.65" width="13.05" height="12.51" fill="#00fa20"/>
<rect x="104.5" y="128.65" width="13.05" height="12.51" fill="#00f90c"/>
<rect x="117.5" y="128.65" width="13.05" height="12.51" fill="#aaf103"/>
<rect x="130.5" y="128.65" width="13.05" height="12.51" fill="#ffcb00"/>
<rect x="143.5" y="128.65" width="13.05" height="12.51" fill="#ff8d00"/>
<rect x="156.5" y="128.65" width="13.05" height="12.51" fill="#ff5a00"/>
<rect x="169.5" y="128.65" width="13.05" height="12.51" fill="#ff5100"/>
<rect x="182.5" y="128.65" width="13.05" height="12.51" fill="#ff3700"/>
<rect x="195.5" y="128.65" width="13.05" height="12.51" fill="#ff4b00"/>
<rect x="39.5" y="141.12" width="13.05" height="12.51" fill="#075aff"/>
<rect x="52.5" y="141.12" width="13.05" height="12.51" fill="#00a2ff"/>
<rect x="65.5" y="141.12" width="13.05" height="12.51" fill="#00dcff"/>
<rect x="78.5" y="141.12" width="13.05" height="12.51" fill="#00fda1"/>
<rect x="91.5" y="141.12" width="13.05" height="12.51" fill="#00fa0e"/>
<rect x="104.5" y="141.12" width="13.05" height="12.51" fill="#00f90c"/>
<rect x="117.5" y="141.12" width="13.05" height="12.51" fill="#c8f102"/>
<rect x="130.5" y="141.12" width="13.05" height="12.51" fill="#ffa500"/>
<rect x="143.5" y="141.12" width="13.05" height="12.51" fill="#ff8700"/>
<rect x="156.5" y="141.12" width="13.05" height="12.51" fill="#ff5100"/>
<rect x="169.5" y="141.12" width="13.05" height="12.51" fill="#ff2700"/>
<rect x="182.5" y="141.12" width="13.05" height="12.51" fill="#ff2700"/>
<rect x="195.5" y="141.12" width="13.05" height="12.51" fill="#ff3e00"/>
<rect x="39.5" y="153.58" width="13.05" height="12.51" fill="#0369ff"/>
<rect x="52.5" y="153.58" width="13.05" height="12.51" fill="#00b9ff"/>
<rect x="65.5" y="153.58" width="13.05" height="12.51" fill="#00eaff"/>
<rect x="78.5" y="153.58" width="13.05" height="12.51" fill="#00fd96"/>
<rect x="91.5" y="153.58" width="13.05" height="12.51" fill="#00fa0e"/>
<rect x="104.5" y="153.58" width="13.05" height="12.51" fill="#00f90c"/>
<rect x="117.5" y="153.58" width="13.05" height="12.51" fill="#f2f100"/>
<rect x="130.5" y="153.58" width="13.05" height="12.51" fill="#ffa500"/>
<rect x="143.5" y="153.58" width="13.05" height="12.51" fill="#ff6900"/>
<rect x="156.5" y="153.58" width="13.05" height="12.51" fill="#ff3200"/>
<rect x="169.5" y="153.58" width="13.05" height="12.51" fill="#ff1c00"/>
<rect x="182.5" y="153.58" width="13.05" height="12.51" fill="#fc0e00"/>
<rect x="195.5" y="153.58" width="13.05" height="12.51" fill="#fc0e00"/>
<rect x="39.5" y="166.04" width="13.05" height="12.51" fill="#0369ff"/>
<rect x="52.5" y="166.04" width="13.05" height="12.51" fill="#00cbff"/>
<rect x="65.5" y="166.04" width="13.05" height="12.51" fill="#00eaff"/>
<rect x="78.5" y="166.04" width="13.05" height="12.51" fill="#00fd96"/>
<rect x="91.5" y="166.04" width="13.05" height="12.51" fill="#00fa0e"/>
<rect x="104.5" y="166.04" width="13.05" height="12.51" fill="#00f90c"/>
<rect x="117.5" y="166.04" width="13.05" height="12.51" fill="#fff000"/>
<rect x="130.5" y="166.04" width="13.05" height="12.51" fill="#ff9600"/>
<rect x="143.5" y="166.04" width="13.05" height="12.51" fill="#ff6900"/>
<rect x="156.5" y="166.04" width="13.05" height="12.51" fill="#ff3200"/>
<rect x="169.5" y="166.04" width="13.05" height="12.51" fill="#ff2000"/>
<rect x="182.5" y="166.04" width="13.05" height="12.51" fill="#ff2000"/>
<rect x="195.5" y="166.04" width="13.05" height="12.51" fill="#ff2000"/>
</g>
<rect x="39.5" y="16.5" width="169" height="162" fill="none" stroke="#111111" stroke-width="1"/>
<path d="M46.3 178.5v-2.6M46.3 16.5v2.6M39.5 171.61h2.6M208.5 171.61h-2.6M72.3 178.5v-2.6M72.3 16.5v2.6M39.5 146.74h2.6M208.5 146.74h-2.6M98.3 178.5v-2.6M98.3 16.5v2.6M39.5 121.87h2.6M208.5 121.87h-2.6M124.3 178.5v-2.6M124.3 16.5v2.6M39.5 97h2.6M208.5 97h-2.6M150.3 178.5v-2.6M150.3 16.5v2.6M39.5 72.13h2.6M208.5 72.13h-2.6M176.3 178.5v-2.6M176.3 16.5v2.6M39.5 47.26h2.6M208.5 47.26h-2.6M202.3 178.5v-2.6M202.3 16.5v2.6M39.5 22.39h2.6M208.5 22.39h-2.6" stroke="#111111" stroke-width="1" fill="none"/>
<g transform="translate(0,0)">
<g font-family="'Liberation Sans', Arial, sans-serif" font-weight="bold" font-size="9" fill="#111111">
<text x="35.7" y="174.81" text-anchor="end">−30</text>
<text x="46.3" y="189.3" text-anchor="middle">−30</text>
<text x="35.7" y="149.94" text-anchor="end">−20</text>
<text x="72.3" y="189.3" text-anchor="middle">−20</text>
<text x="35.7" y="125.07" text-anchor="end">−10</text>
<text x="98.3" y="189.3" text-anchor="middle">−10</text>
<text x="35.7" y="100.2" text-anchor="end">0</text>
<text x="124.3" y="189.3" text-anchor="middle">0</text>
<text x="35.7" y="75.33" text-anchor="end">10</text>
<text x="150.3" y="189.3" text-anchor="middle">10</text>
<text x="35.7" y="50.46" text-anchor="end">20</text>
<text x="176.3" y="189.3" text-anchor="middle">20</text>
<text x="35.7" y="25.59" text-anchor="end">30</text>
<text x="202.3" y="189.3" text-anchor="middle">30</text>
</g>
<text x="124.3" y="206" text-anchor="middle" font-family="'Liberation Sans', Arial, sans-serif" font-weight="bold" font-size="10.7" fill="#111111">X-coordinate (cm)</text>
<text transform="translate(17,97) rotate(-90)" text-anchor="middle" font-family="'Liberation Sans', Arial, sans-serif" font-weight="bold" font-size="10.7" fill="#111111">Y-coordinate (cm)</text>
<text x="130.75" y="13.3" text-anchor="middle" font-family="'Liberation Sans', Arial, sans-serif" font-weight="bold" font-size="10.3" fill="#111111">LED 3</text>
<rect x="216.2" y="21" width="11.7" height="156.4" fill="url(#cb)" stroke="#111111" stroke-width="1"/>
<g font-family="'Liberation Sans', Arial, sans-serif" font-weight="bold" font-size="8" fill="#111111">
<text x="230.6" y="180.3">0.009</text>
<text x="230.6" y="164.66">0.012</text>
<text x="230.6" y="149.02">0.015</text>
<text x="230.6" y="133.38">0.018</text>
<text x="230.6" y="117.74">0.021</text>
<text x="230.6" y="102.1">0.024</text>
<text x="230.6" y="86.46">0.027</text>
<text x="230.6" y="70.82">0.030</text>
<text x="230.6" y="55.18">0.033</text>
<text x="230.6" y="39.54">0.036</text>
<text x="230.6" y="23.9">0.039</text>
</g>
<path d="M227.9 161.76h-2M227.9 146.12h-2M227.9 130.48h-2M227.9 114.84h-2M227.9 99.2h-2M227.9 83.56h-2M227.9 67.92h-2M227.9 52.28h-2M227.9 36.64h-2" stroke="#111111" stroke-width="1" fill="none"/>
<text x="222" y="14.9" text-anchor="middle" font-family="'Liberation Sans', Arial, sans-serif" font-weight="bold" font-size="9" fill="#111111">RSS</text>
</g>
</g>
<g transform="translate(296,239)">
<g shape-rendering="crispEdges">
<rect x="39.5" y="16.5" width="13.05" height="12.51" fill="#0560ff"/>
<rect x="52.5" y="16.5" width="13.05" height="12.51" fill="#026fff"/>
<rect x="65.5" y="16.5" width="13.05" height="12.51" fill="#026fff"/>
<rect x="78.5" y="16.5" width="13.05" height="12.51" fill="#0560ff"/>
<rect x="91.5" y="16.5" width="13.05" height="12.51" fill="#0560ff"/>
<rect x="104.5" y="16.5" width="13.05" height="12.51" fill="#0560ff"/>
<rect x="117.5" y="16.5" width="13.05" height="12.51" fill="#212dff"/>
<rect x="130.5" y="16.5" width="13.05" height="12.51" fill="#2d1eff"/>
<rect x="143.5" y="16.5" width="13.05" height="12.51" fill="#3a16ff"/>
<rect x="156.5" y="16.5" width="13.05" height="12.51" fill="#480dff"/>
<rect x="169.5" y="16.5" width="13.05" height="12.51" fill="#7d00ff"/>
<rect x="182.5" y="16.5" width="13.05" height="12.51" fill="#8a00ff"/>
<rect x="195.5" y="16.5" width="13.05" height="12.51" fill="#9800ff"/>
<rect x="39.5" y="28.96" width="13.05" height="12.51" fill="#00a2ff"/>
<rect x="52.5" y="28.96" width="13.05" height="12.51" fill="#00a8ff"/>
<rect x="65.5" y="28.96" width="13.05" height="12.51" fill="#00a8ff"/>
<rect x="78.5" y="28.96" width="13.05" height="12.51" fill="#00a2ff"/>
<rect x="91.5" y="28.96" width="13.05" height="12.51" fill="#0098ff"/>
<rect x="104.5" y="28.96" width="13.05" height="12.51" fill="#026fff"/>
<rect x="117.5" y="28.96" width="13.05" height="12.51" fill="#0369ff"/>
<rect x="130.5" y="28.96" width="13.05" height="12.51" fill="#0369ff"/>
<rect x="143.5" y="28.96" width="13.05" height="12.51" fill="#163cff"/>
<rect x="156.5" y="28.96" width="13.05" height="12.51" fill="#3a16ff"/>
<rect x="169.5" y="28.96" width="13.05" height="12.51" fill="#5505ff"/>
<rect x="182.5" y="28.96" width="13.05" height="12.51" fill="#7002ff"/>
<rect x="195.5" y="28.96" width="13.05" height="12.51" fill="#7d00ff"/>
<rect x="39.5" y="41.42" width="13.05" height="12.51" fill="#00eaff"/>
<rect x="52.5" y="41.42" width="13.05" height="12.51" fill="#00f8ff"/>
<rect x="65.5" y="41.42" width="13.05" height="12.51" fill="#00f8ff"/>
<rect x="78.5" y="41.42" width="13.05" height="12.51" fill="#00eaff"/>
<rect x="91.5" y="41.42" width="13.05" height="12.51" fill="#00cbff"/>
<rect x="104.5" y="41.42" width="13.05" height="12.51" fill="#00b9ff"/>
<rect x="117.5" y="41.42" width="13.05" height="12.51" fill="#00a8ff"/>
<rect x="130.5" y="41.42" width="13.05" height="12.51" fill="#0088ff"/>
<rect x="143.5" y="41.42" width="13.05" height="12.51" fill="#0078ff"/>
<rect x="156.5" y="41.42" width="13.05" height="12.51" fill="#163cff"/>
<rect x="169.5" y="41.42" width="13.05" height="12.51" fill="#3a16ff"/>
<rect x="182.5" y="41.42" width="13.05" height="12.51" fill="#5505ff"/>
<rect x="195.5" y="41.42" width="13.05" height="12.51" fill="#7002ff"/>
<rect x="39.5" y="53.88" width="13.05" height="12.51" fill="#00fd96"/>
<rect x="52.5" y="53.88" width="13.05" height="12.51" fill="#00fd96"/>
<rect x="65.5" y="53.88" width="13.05" height="12.51" fill="#00fd96"/>
<rect x="78.5" y="53.88" width="13.05" height="12.51" fill="#00fdcd"/>
<rect x="91.5" y="53.88" width="13.05" height="12.51" fill="#00fae6"/>
<rect x="104.5" y="53.88" width="13.05" height="12.51" fill="#00f8ff"/>
<rect x="117.5" y="53.88" width="13.05" height="12.51" fill="#00cbff"/>
<rect x="130.5" y="53.88" width="13.05" height="12.51" fill="#00a8ff"/>
<rect x="143.5" y="53.88" width="13.05" height="12.51" fill="#0088ff"/>
<rect x="156.5" y="53.88" width="13.05" height="12.51" fill="#0078ff"/>
<rect x="169.5" y="53.88" width="13.05" height="12.51" fill="#0a4bff"/>
<rect x="182.5" y="53.88" width="13.05" height="12.51" fill="#3a16ff"/>
<rect x="195.5" y="53.88" width="13.05" height="12.51" fill="#5505ff"/>
<rect x="39.5" y="66.35" width="13.05" height="12.51" fill="#00f90c"/>
<rect x="52.5" y="66.35" width="13.05" height="12.51" fill="#00f90c"/>
<rect x="65.5" y="66.35" width="13.05" height="12.51" fill="#00f90c"/>
<rect x="78.5" y="66.35" width="13.05" height="12.51" fill="#00fa0e"/>
<rect x="91.5" y="66.35" width="13.05" height="12.51" fill="#00fb29"/>
<rect x="104.5" y="66.35" width="13.05" height="12.51" fill="#00fc62"/>
<rect x="117.5" y="66.35" width="13.05" height="12.51" fill="#00faf0"/>
<rect x="130.5" y="66.35" width="13.05" height="12.51" fill="#00f8ff"/>
<rect x="143.5" y="66.35" width="13.05" height="12.51" fill="#00dcff"/>
<rect x="156.5" y="66.35" width="13.05" height="12.51" fill="#00a8ff"/>
<rect x="169.5" y="66.35" width="13.05" height="12.51" fill="#0088ff"/>
<rect x="182.5" y="66.35" width="13.05" height="12.51" fill="#0369ff"/>
<rect x="195.5" y="66.35" width="13.05" height="12.51" fill="#3a16ff"/>
<rect x="39.5" y="78.81" width="13.05" height="12.51" fill="#00f90a"/>
<rect x="52.5" y="78.81" width="13.05" height="12.51" fill="#00f90a"/>
<rect x="65.5" y="78.81" width="13.05" height="12.51" fill="#00f90a"/>
<rect x="78.5" y="78.81" width="13.05" height="12.51" fill="#00f90a"/>
<rect x="91.5" y="78.81" width="13.05" height="12.51" fill="#00f90c"/>
<rect x="104.5" y="78.81" width="13.05" height="12.51" fill="#00fa0e"/>
<rect x="117.5" y="78.81" width="13.05" height="12.51" fill="#00fd96"/>
<rect x="130.5" y="78.81" width="13.05" height="12.51" fill="#00fdcd"/>
<rect x="143.5" y="78.81" width="13.05" height="12.51" fill="#00f8ff"/>
<rect x="156.5" y="78.81" width="13.05" height="12.51" fill="#00cbff"/>
<rect x="169.5" y="78.81" width="13.05" height="12.51" fill="#00a8ff"/>
<rect x="182.5" y="78.81" width="13.05" height="12.51" fill="#0088ff"/>
<rect x="195.5" y="78.81" width="13.05" height="12.51" fill="#0a4bff"/>
<rect x="39.5" y="91.27" width="13.05" height="12.51" fill="#fff000"/>
<rect x="52.5" y="91.27" width="13.05" height="12.51" fill="#fff000"/>
<rect x="65.5" y="91.27" width="13.05" height="12.51" fill="#fff000"/>
<rect x="78.5" y="91.27" width="13.05" height="12.51" fill="#c8f102"/>
<rect x="91.5" y="91.27" width="13.05" height="12.51" fill="#aaf103"/>
<rect x="104.5" y="91.27" width="13.05" height="12.51" fill="#00f908"/>
<rect x="117.5" y="91.27" width="13.05" height="12.51" fill="#00f90c"/>
<rect x="130.5" y="91.27" width="13.05" height="12.51" fill="#00fd96"/>
<rect x="143.5" y="91.27" width="13.05" height="12.51" fill="#00fdcd"/>
<rect x="156.5" y="91.27" width="13.05" height="12.51" fill="#00f8ff"/>
<rect x="169.5" y="91.27" width="13.05" height="12.51" fill="#00cbff"/>
<rect x="182.5" y="91.27" width="13.05" height="12.51" fill="#0098ff"/>
<rect x="195.5" y="91.27" width="13.05" height="12.51" fill="#0369ff"/>
<rect x="39.5" y="103.73" width="13.05" height="12.51" fill="#ffa500"/>
<rect x="52.5" y="103.73" width="13.05" height="12.51" fill="#ffa500"/>
<rect x="65.5" y="103.73" width="13.05" height="12.51" fill="#ffb800"/>
<rect x="78.5" y="103.73" width="13.05" height="12.51" fill="#ffb800"/>
<rect x="91.5" y="103.73" width="13.05" height="12.51" fill="#fff000"/>
<rect x="104.5" y="103.73" width="13.05" height="12.51" fill="#c8f102"/>
<rect x="117.5" y="103.73" width="13.05" height="12.51" fill="#00f90a"/>
<rect x="130.5" y="103.73" width="13.05" height="12.51" fill="#00f90c"/>
<rect x="143.5" y="103.73" width="13.05" height="12.51" fill="#00fc76"/>
<rect x="156.5" y="103.73" width="13.05" height="12.51" fill="#00faf0"/>
<rect x="169.5" y="103.73" width="13.05" height="12.51" fill="#00e4ff"/>
<rect x="182.5" y="103.73" width="13.05" height="12.51" fill="#00a8ff"/>
<rect x="195.5" y="103.73" width="13.05" height="12.51" fill="#0078ff"/>
<rect x="39.5" y="116.19" width="13.05" height="12.51" fill="#ff7800"/>
<rect x="52.5" y="116.19" width="13.05" height="12.51" fill="#ff9c00"/>
<rect x="65.5" y="116.19" width="13.05" height="12.51" fill="#ff8100"/>
<rect x="78.5" y="116.19" width="13.05" height="12.51" fill="#ff8d00"/>
<rect x="91.5" y="116.19" width="13.05" height="12.51" fill="#ffb800"/>
<rect x="104.5" y="116.19" width="13.05" height="12.51" fill="#ffde00"/>
<rect x="117.5" y="116.19" width="13.05" height="12.51" fill="#8cf005"/>
<rect x="130.5" y="116.19" width="13.05" height="12.51" fill="#00f90c"/>
<rect x="143.5" y="116.19" width="13.05" height="12.51" fill="#00f90c"/>
<rect x="156.5" y="116.19" width="13.05" height="12.51" fill="#00fdb2"/>
<rect x="169.5" y="116.19" width="13.05" height="12.51" fill="#00e4ff"/>
<rect x="182.5" y="116.19" width="13.05" height="12.51" fill="#00a8ff"/>
<rect x="195.5" y="116.19" width="13.05" height="12.51" fill="#0078ff"/>
<rect x="39.5" y="128.65" width="13.05" height="12.51" fill="#ff5a00"/>
<rect x="52.5" y="128.65" width="13.05" height="12.51" fill="#ff5100"/>
<rect x="65.5" y="128.65" width="13.05" height="12.51" fill="#ff5a00"/>
<rect x="78.5" y="128.65" width="13.05" height="12.51" fill="#ff6900"/>
<rect x="91.5" y="128.65" width="13.05" height="12.51" fill="#ff8700"/>
<rect x="104.5" y="128.65" width="13.05" height="12.51" fill="#ffb800"/>
<rect x="117.5" y="128.65" width="13.05" height="12.51" fill="#aaf103"/>
<rect x="130.5" y="128.65" width="13.05" height="12.51" fill="#00f90a"/>
<rect x="143.5" y="128.65" width="13.05" height="12.51" fill="#00f90c"/>
<rect x="156.5" y="128.65" width="13.05" height="12.51" fill="#00fdac"/>
<rect x="169.5" y="128.65" width="13.05" height="12.51" fill="#00f8ff"/>
<rect x="182.5" y="128.65" width="13.05" height="12.51" fill="#00c0ff"/>
<rect x="195.5" y="128.65" width="13.05" height="12.51" fill="#0088ff"/>
<rect x="39.5" y="141.12" width="13.05" height="12.51" fill="#ff4b00"/>
<rect x="52.5" y="141.12" width="13.05" height="12.51" fill="#ff2700"/>
<rect x="65.5" y="141.12" width="13.05" height="12.51" fill="#ff3200"/>
<rect x="78.5" y="141.12" width="13.05" height="12.51" fill="#ff5a00"/>
<rect x="91.5" y="141.12" width="13.05" height="12.51" fill="#ff7800"/>
<rect x="104.5" y="141.12" width="13.05" height="12.51" fill="#ffad00"/>
<rect x="117.5" y="141.12" width="13.05" height="12.51" fill="#ffe500"/>
<rect x="130.5" y="141.12" width="13.05" height="12.51" fill="#9ef004"/>
<rect x="143.5" y="141.12" width="13.05" height="12.51" fill="#00f90c"/>
<rect x="156.5" y="141.12" width="13.05" height="12.51" fill="#00fda1"/>
<rect x="169.5" y="141.12" width="13.05" height="12.51" fill="#00f8ff"/>
<rect x="182.5" y="141.12" width="13.05" height="12.51" fill="#00c0ff"/>
<rect x="195.5" y="141.12" width="13.05" height="12.51" fill="#0088ff"/>
<rect x="39.5" y="153.58" width="13.05" height="12.51" fill="#ff1c00"/>
<rect x="52.5" y="153.58" width="13.05" height="12.51" fill="#ff3e00"/>
<rect x="65.5" y="153.58" width="13.05" height="12.51" fill="#ff3e00"/>
<rect x="78.5" y="153.58" width="13.05" height="12.51" fill="#ff5a00"/>
<rect x="91.5" y="153.58" width="13.05" height="12.51" fill="#ff6f00"/>
<rect x="104.5" y="153.58" width="13.05" height="12.51" fill="#ffa500"/>
<rect x="117.5" y="153.58" width="13.05" height="12.51" fill="#ffe500"/>
<rect x="130.5" y="153.58" width="13.05" height="12.51" fill="#00f90a"/>
<rect x="143.5" y="153.58" width="13.05" height="12.51" fill="#00f90c"/>
<rect x="156.5" y="153.58" width="13.05" height="12.51" fill="#00fda1"/>
<rect x="169.5" y="153.58" width="13.05" height="12.51" fill="#00f8ff"/>
<rect x="182.5" y="153.58" width="13.05" height="12.51" fill="#00c0ff"/>
<rect x="195.5" y="153.58" width="13.05" height="12.51" fill="#0088ff"/>
<rect x="39.5" y="166.04" width="13.05" height="12.51" fill="#ff4b00"/>
<rect x="52.5" y="166.04" width="13.05" height="12.51" fill="#ff4b00"/>
<rect x="65.5" y="166.04" width="13.05" height="12.51" fill="#ff4b00"/>
<rect x="78.5" y="166.04" width="13.05" height="12.51" fill="#ff5a00"/>
<rect x="91.5" y="166.04" width="13.05" height="12.51" fill="#ffa500"/>
<rect x="104.5" y="166.04" width="13.05" height="12.51" fill="#ffa500"/>
<rect x="117.5" y="166.04" width="13.05" height="12.51" fill="#fff000"/>
<rect x="130.5" y="166.04" width="13.05" height="12.51" fill="#00f90a"/>
<rect x="143.5" y="166.04" width="13.05" height="12.51" fill="#00f90c"/>
<rect x="156.5" y="166.04" width="13.05" height="12.51" fill="#00fda1"/>
<rect x="169.5" y="166.04" width="13.05" height="12.51" fill="#00f8ff"/>
<rect x="182.5" y="166.04" width="13.05" height="12.51" fill="#00c0ff"/>
<rect x="195.5" y="166.04" width="13.05" height="12.51" fill="#0088ff"/>
</g>
<rect x="39.5" y="16.5" width="169" height="162" fill="none" stroke="#111111" stroke-width="1"/>
<path d="M46.3 178.5v-2.6M46.3 16.5v2.6M39.5 171.61h2.6M208.5 171.61h-2.6M72.3 178.5v-2.6M72.3 16.5v2.6M39.5 146.74h2.6M208.5 146.74h-2.6M98.3 178.5v-2.6M98.3 16.5v2.6M39.5 121.87h2.6M208.5 121.87h-2.6M124.3 178.5v-2.6M124.3 16.5v2.6M39.5 97h2.6M208.5 97h-2.6M150.3 178.5v-2.6M150.3 16.5v2.6M39.5 72.13h2.6M208.5 72.13h-2.6M176.3 178.5v-2.6M176.3 16.5v2.6M39.5 47.26h2.6M208.5 47.26h-2.6M202.3 178.5v-2.6M202.3 16.5v2.6M39.5 22.39h2.6M208.5 22.39h-2.6" stroke="#111111" stroke-width="1" fill="none"/>
<g transform="translate(-0.5,0)">
<g font-family="'Liberation Sans', Arial, sans-serif" font-weight="bold" font-size="9" fill="#111111">
<text x="35.7" y="174.81" text-anchor="end">−30</text>
<text x="46.3" y="189.3" text-anchor="middle">−30</text>
<text x="35.7" y="149.94" text-anchor="end">−20</text>
<text x="72.3" y="189.3" text-anchor="middle">−20</text>
<text x="35.7" y="125.07" text-anchor="end">−10</text>
<text x="98.3" y="189.3" text-anchor="middle">−10</text>
<text x="35.7" y="100.2" text-anchor="end">0</text>
<text x="124.3" y="189.3" text-anchor="middle">0</text>
<text x="35.7" y="75.33" text-anchor="end">10</text>
<text x="150.3" y="189.3" text-anchor="middle">10</text>
<text x="35.7" y="50.46" text-anchor="end">20</text>
<text x="176.3" y="189.3" text-anchor="middle">20</text>
<text x="35.7" y="25.59" text-anchor="end">30</text>
<text x="202.3" y="189.3" text-anchor="middle">30</text>
</g>
<text x="124.3" y="206" text-anchor="middle" font-family="'Liberation Sans', Arial, sans-serif" font-weight="bold" font-size="10.7" fill="#111111">X-coordinate (cm)</text>
<text transform="translate(17,97) rotate(-90)" text-anchor="middle" font-family="'Liberation Sans', Arial, sans-serif" font-weight="bold" font-size="10.7" fill="#111111">Y-coordinate (cm)</text>
<text x="130.75" y="13.3" text-anchor="middle" font-family="'Liberation Sans', Arial, sans-serif" font-weight="bold" font-size="10.3" fill="#111111">LED 4</text>
<rect x="216.2" y="21" width="11.7" height="156.4" fill="url(#cb)" stroke="#111111" stroke-width="1"/>
<g font-family="'Liberation Sans', Arial, sans-serif" font-weight="bold" font-size="8" fill="#111111">
<text x="230.6" y="180.3">0.009</text>
<text x="230.6" y="164.66">0.012</text>
<text x="230.6" y="149.02">0.015</text>
<text x="230.6" y="133.38">0.018</text>
<text x="230.6" y="117.74">0.021</text>
<text x="230.6" y="102.1">0.024</text>
<text x="230.6" y="86.46">0.027</text>
<text x="230.6" y="70.82">0.030</text>
<text x="230.6" y="55.18">0.033</text>
<text x="230.6" y="39.54">0.036</text>
<text x="230.6" y="23.9">0.039</text>
</g>
<path d="M227.9 161.76h-2M227.9 146.12h-2M227.9 130.48h-2M227.9 114.84h-2M227.9 99.2h-2M227.9 83.56h-2M227.9 67.92h-2M227.9 52.28h-2M227.9 36.64h-2" stroke="#111111" stroke-width="1" fill="none"/>
<text x="222" y="14.9" text-anchor="middle" font-family="'Liberation Sans', Arial, sans-serif" font-weight="bold" font-size="9" fill="#111111">RSS</text>
</g>
</g>
<text x="131" y="236.7" text-anchor="middle" font-family="'Liberation Serif', 'Times New Roman', serif" font-size="17" fill="#111111" style="stroke-width:0.15px">(<tspan font-weight="bold" style="stroke-width:0.2px">a</tspan>)</text>
<text x="433.5" y="236.7" text-anchor="middle" font-family="'Liberation Serif', 'Times New Roman', serif" font-size="17" fill="#111111" style="stroke-width:0.15px">(<tspan font-weight="bold" style="stroke-width:0.2px">b</tspan>)</text>
<text x="130.9" y="475.7" text-anchor="middle" font-family="'Liberation Serif', 'Times New Roman', serif" font-size="17" fill="#111111" style="stroke-width:0.15px">(<tspan font-weight="bold" style="stroke-width:0.2px">c</tspan>)</text>
<text x="443.6" y="475.7" text-anchor="middle" font-family="'Liberation Serif', 'Times New Roman', serif" font-size="17" fill="#111111" style="stroke-width:0.15px">(<tspan font-weight="bold" style="stroke-width:0.2px">d</tspan>)</text>
</svg></body></html>
